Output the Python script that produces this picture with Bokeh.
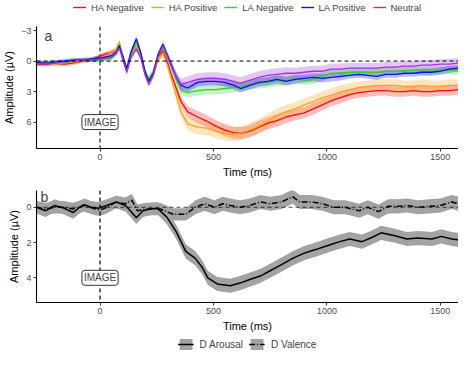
from bokeh.plotting import figure
from bokeh.models import Range1d, FixedTicker, Legend, LegendItem, Span, Label
from bokeh.layouts import column
from bokeh.embed import file_html
from bokeh.resources import INLINE

FONT = "Liberation Sans"

# ---------------- panel a data ----------------
time_a = [-280, -240, -200, -160, -120, -80, -40, 0, 25, 50, 70, 85, 100, 118, 135, 160, 180, 198,
          215, 235, 255, 277, 295, 315, 335, 357, 387, 430, 470, 510, 550, 590, 620, 660, 700, 740,
          780, 820, 860, 900, 940, 980, 1020, 1060, 1100, 1140, 1180, 1220, 1260, 1300, 1340, 1380,
          1420, 1460, 1500, 1540, 1580]
ha_negative = [0.3, 0.3, 0.2, 0.3, 0.2, 0.0, -0.1, -0.5, -0.7, -0.85, -1.0, -1.7, -0.3, 1.0, -0.5, -1.5, -0.5,
               1.2, 2.0, 1.2, -0.4, -1.0, 0.0, 1.4, 2.6, 4.0, 5.0, 5.5, 5.9, 6.4, 6.8, 7.05, 7.1, 6.9, 6.5,
               6.1, 5.85, 5.5, 5.3, 5.1, 4.7, 4.3, 3.9, 3.6, 3.3, 3.1, 3.0, 2.9, 2.9, 3.0, 3.0, 2.9, 3.0,
               3.0, 2.9, 2.9, 2.8]
ha_positive = [0.1, 0.2, 0.3, 0.2, 0.1, 0.0, -0.1, -0.3, -0.5, -0.9, -1.1, -1.9, -0.5, 0.9, -0.3, -1.5, -0.5,
               1.2, 2.1, 1.4, 0.0, -0.8, 0.3, 1.8, 3.3, 5.0, 6.2, 6.5, 6.6, 6.9, 7.1, 7.2, 7.1, 6.8, 6.4,
               5.9, 5.35, 5.0, 4.7, 4.3, 4.0, 3.6, 3.35, 3.0, 2.8, 2.6, 2.5, 2.4, 2.4, 2.4, 2.5, 2.5, 2.4,
               2.5, 2.5, 2.4, 2.4]
la_negative = [0.2, 0.2, 0.1, 0.2, 0.0, -0.1, -0.1, -0.1, -0.2, -0.25, -0.9, -1.6, -0.3, 0.9, -0.6, -1.9, -0.6,
               1.0, 1.75, 1.0, -0.5, -1.3, -0.5, 0.5, 1.8, 2.9, 3.1, 2.9, 2.8, 2.8, 2.7, 2.6, 2.5, 2.3, 2.2,
               2.1, 1.95, 1.9, 1.8, 1.9, 1.8, 1.5, 1.2, 1.2, 1.1, 1.1, 1.1, 1.1, 1.0, 1.0, 1.0, 0.9, 1.0,
               1.0, 0.9, 0.9, 0.95]
la_positive = [0.1, 0.2, 0.1, 0.0, -0.1, -0.1, -0.2, -0.3, -0.4, -0.5, -0.8, -1.5, -0.5, 0.75, -0.8, -2.2, -0.8,
               1.0, 2.0, 1.2, -0.6, -1.65, -0.7, 0.4, 1.5, 2.4, 2.65, 2.1, 2.0, 2.0, 2.1, 2.4, 2.7, 2.4, 2.1,
               2.0, 1.8, 2.0, 1.8, 1.7, 1.6, 1.7, 1.6, 1.5, 1.4, 1.3, 1.4, 1.5, 1.3, 1.3, 1.2, 1.2, 1.1,
               1.1, 1.0, 0.8, 0.7]
neutral = [0.2, 0.3, 0.2, 0.1, 0.0, -0.1, -0.1, -0.2, -0.3, -0.4, -0.7, -1.3, -0.2, 1.1, -0.3, -1.2, -0.3,
           1.3, 2.3, 1.4, -0.4, -1.5, -0.6, 0.5, 1.5, 2.3, 2.1, 1.8, 1.7, 1.7, 1.8, 2.0, 2.2, 1.9, 1.6,
           1.4, 1.3, 1.2, 1.2, 1.1, 1.0, 1.0, 0.8, 0.8, 0.7, 0.7, 0.7, 0.7, 0.6, 0.6, 0.5, 0.5, 0.4,
           0.4, 0.3, 0.3, 0.2]

se_ha_negative = [0.2, 0.2, 0.2, 0.2, 0.2, 0.2, 0.2, 0.25, 0.25, 0.25, 0.25, 0.3, 0.3, 0.3, 0.3, 0.3, 0.3, 0.3,
                  0.3, 0.3, 0.3, 0.35, 0.35, 0.4, 0.45, 0.5, 0.55, 0.6, 0.6, 0.6, 0.6, 0.6, 0.6, 0.6, 0.6,
                  0.6, 0.6, 0.6, 0.55, 0.55, 0.55, 0.55, 0.55, 0.55, 0.5, 0.5, 0.5, 0.5, 0.5, 0.5, 0.5, 0.5,
                  0.5, 0.5, 0.5, 0.5, 0.5]
se_ha_positive = [0.2, 0.2, 0.2, 0.2, 0.2, 0.2, 0.2, 0.25, 0.25, 0.25, 0.25, 0.3, 0.3, 0.3, 0.3, 0.3, 0.3, 0.3,
                  0.3, 0.3, 0.3, 0.4, 0.4, 0.5, 0.55, 0.6, 0.65, 0.7, 0.7, 0.7, 0.7, 0.7, 0.7, 0.7, 0.7,
                  0.7, 0.7, 0.7, 0.65, 0.65, 0.65, 0.65, 0.65, 0.65, 0.6, 0.6, 0.6, 0.6, 0.6, 0.6, 0.6, 0.6,
                  0.6, 0.6, 0.6, 0.6, 0.6]
se_la_negative = [0.2, 0.2, 0.2, 0.2, 0.2, 0.2, 0.2, 0.25, 0.25, 0.25, 0.25, 0.3, 0.3, 0.3, 0.3, 0.3, 0.3, 0.3,
                  0.3, 0.3, 0.3, 0.35, 0.35, 0.4, 0.4, 0.45, 0.45, 0.5, 0.5, 0.5, 0.5, 0.5, 0.5, 0.5, 0.5,
                  0.5, 0.5, 0.5, 0.45, 0.45, 0.45, 0.45, 0.45, 0.45, 0.4, 0.4, 0.4, 0.4, 0.4, 0.4, 0.4, 0.4,
                  0.4, 0.4, 0.4, 0.4, 0.4]
se_la_positive = [0.2, 0.2, 0.2, 0.2, 0.2, 0.2, 0.2, 0.25, 0.25, 0.25, 0.25, 0.3, 0.3, 0.3, 0.3, 0.3, 0.3, 0.3,
                  0.3, 0.3, 0.3, 0.3, 0.3, 0.35, 0.35, 0.4, 0.4, 0.4, 0.4, 0.4, 0.4, 0.4, 0.4, 0.4, 0.4,
                  0.4, 0.4, 0.4, 0.4, 0.4, 0.4, 0.4, 0.4, 0.4, 0.35, 0.35, 0.35, 0.35, 0.35, 0.35, 0.35, 0.35,
                  0.35, 0.35, 0.35, 0.35, 0.35]
se_neutral = [0.2, 0.2, 0.2, 0.2, 0.2, 0.2, 0.2, 0.25, 0.25, 0.25, 0.25, 0.3, 0.3, 0.3, 0.3, 0.3, 0.3, 0.3,
              0.3, 0.3, 0.3, 0.35, 0.35, 0.45, 0.5, 0.55, 0.6, 0.6, 0.6, 0.6, 0.6, 0.6, 0.6, 0.6, 0.6,
              0.6, 0.6, 0.6, 0.55, 0.55, 0.55, 0.55, 0.55, 0.55, 0.5, 0.5, 0.5, 0.5, 0.5, 0.5, 0.5, 0.5,
              0.5, 0.5, 0.5, 0.5, 0.5]

series_names = ["HA Negative", "HA Positive", "LA Negative", "LA Positive", "Neutral"]
series_values = [ha_negative, ha_positive, la_negative, la_positive, neutral]
series_se = [se_ha_negative, se_ha_positive, se_la_negative, se_la_positive, se_neutral]
series_colors = ["#F21010", "#FFA31A", "#2FD12F", "#1010E0", "#A030E0"]

ticks_x = [0, 500, 1000, 1500]
ticks_a = [-3, 0, 3, 6]
ticks_b = [0, 2, 4]

# ---------------- panel b data ----------------
time_arousal = [-280, -240, -200, -160, -118, -90, -70, -40, -8, 30, 71, 113, 140, 160, 189, 220, 252, 294,
                336, 378, 420, 450, 475, 517, 574, 617, 660, 706, 750, 800, 849, 900, 950, 1008, 1057,
                1101, 1155, 1200, 1239, 1295, 1353, 1400, 1463, 1504, 1550, 1580]
d_arousal = [0.0, 0.2, -0.1, 0.05, 0.3, 0.0, -0.15, 0.0, 0.05, -0.1, -0.3, -0.1, 0.3, 0.6, 0.2, 0.1, 0.05,
             0.55, 1.4, 2.5, 2.9, 3.4, 4.0, 4.35, 4.45, 4.3, 4.1, 3.9, 3.6, 3.25, 2.9, 2.6, 2.4, 2.15, 1.95,
             1.8, 1.95, 1.7, 1.45, 1.6, 1.8, 1.75, 1.8, 1.65, 1.8, 1.85]
se_arousal = [0.35, 0.35, 0.35, 0.35, 0.35, 0.35, 0.35, 0.35, 0.35, 0.35, 0.35, 0.35, 0.35, 0.35, 0.35, 0.35,
              0.35, 0.4, 0.4, 0.4, 0.4, 0.4, 0.4, 0.4, 0.4, 0.4, 0.4, 0.4, 0.4, 0.4, 0.4, 0.4, 0.4, 0.4,
              0.4, 0.4, 0.4, 0.4, 0.4, 0.4, 0.4, 0.4, 0.4, 0.4, 0.4, 0.4]
time_valence = [-280, -240, -200, -160, -120, -70, -20, 0, 30, 71, 110, 140, 165, 200, 265, 322, 378, 420,
                462, 504, 540, 574, 617, 660, 706, 750, 800, 849, 880, 933, 980, 1030, 1080, 1143, 1180,
                1227, 1270, 1310, 1353, 1400, 1450, 1500, 1550, 1580]
d_valence = [0.0, 0.1, 0.0, 0.0, 0.1, -0.1, 0.1, 0.15, 0.0, -0.3, -0.2, -0.4, 0.2, 0.1, 0.1, 0.4, 0.4, 0.0,
             -0.2, 0.0, -0.2, -0.1, 0.0, -0.1, -0.3, -0.2, -0.3, -0.6, -0.3, -0.3, -0.2, 0.0, 0.0, 0.2, 0.0,
             0.25, -0.05, -0.05, -0.1, 0.0, -0.05, -0.1, -0.3, -0.2]
se_valence = [0.35, 0.35, 0.35, 0.35, 0.35, 0.35, 0.35, 0.35, 0.35, 0.35, 0.35, 0.35, 0.35, 0.35, 0.35, 0.35,
              0.35, 0.4, 0.4, 0.4, 0.4, 0.4, 0.4, 0.4, 0.4, 0.4, 0.4, 0.4, 0.4, 0.4, 0.4, 0.4, 0.4, 0.4,
              0.4, 0.4, 0.4, 0.4, 0.4, 0.4, 0.4, 0.4, 0.4, 0.4]

W = 458
arousal_lo = [v - s for v, s in zip(d_arousal, se_arousal)]
arousal_hi = [v + s for v, s in zip(d_arousal, se_arousal)]
valence_lo = [v - s for v, s in zip(d_valence, se_valence)]
valence_hi = [v + s for v, s in zip(d_valence, se_valence)]


def style_axes(p, yticks, overrides=None):
    p.grid.visible = False
    p.outline_line_color = None
    for ax in (p.xaxis[0], p.yaxis[0]):
        ax.axis_line_color = "black"
        ax.axis_line_width = 1.1
        ax.major_tick_line_color = "#333333"
        ax.major_tick_out = 3
        ax.major_tick_in = 0
        ax.minor_tick_line_color = None
        ax.major_label_text_font = FONT
        ax.major_label_text_font_size = "9px"
        ax.major_label_text_color = "#4D4D4D"
        ax.major_label_standoff = 2
        ax.axis_label_text_font = FONT
        ax.axis_label_text_font_size = "11px"
        ax.axis_label_text_font_style = "normal"
        ax.axis_label_text_color = "black"
        ax.axis_label_standoff = 3
    p.xaxis[0].ticker = FixedTicker(ticks=ticks_x)
    p.yaxis[0].ticker = FixedTicker(ticks=yticks)
    if overrides:
        p.yaxis[0].major_label_overrides = overrides
    p.xaxis[0].axis_label = "Time (ms)"
    p.yaxis[0].axis_label = "Amplitude (µV)"


def legend_fig(height, left):
    # key-only strip: the series are drawn here too, but outside the visible y range,
    # so that only the legend keys show
    f = figure(width=W, height=height, output_backend="svg", toolbar_location=None,
               x_range=Range1d(-280, 1580), y_range=Range1d(100, 101),
               x_axis_location=None, y_axis_location=None,
               min_border_left=left, min_border_right=0, min_border_top=0, min_border_bottom=0)
    f.grid.visible = False
    f.outline_line_color = None
    return f


# ---------------- top legend ----------------
lg_top = legend_fig(14, 30)
items_top = []
for name, vals, col in zip(series_names, series_values, series_colors):
    r = lg_top.line(x=time_a, y=vals, line_color=col, line_width=1.4)
    items_top.append(LegendItem(label=name, renderers=[r]))
lg_top.add_layout(Legend(items=items_top, orientation="horizontal", location="center",
                         label_text_font=FONT, label_text_font_size="9.5px", label_height=12,
                         glyph_width=13, glyph_height=12, label_standoff=5, spacing=7,
                         padding=0, margin=0, border_line_color=None, background_fill_alpha=0))

# ---------------- panel a ----------------
pa = figure(width=W, height=166, output_backend="svg", toolbar_location=None,
            x_range=Range1d(-280, 1580), y_range=Range1d(8.6, -3.4),
            min_border_left=30, min_border_right=0, min_border_top=12, min_border_bottom=0)
style_axes(pa, ticks_a, {-3: "\u22123", 0: "0", 3: "3", 6: "6"})

pa.add_layout(Span(location=0, dimension="height", line_color="#555555", line_width=1.6, line_dash="4 3"))
pa.add_layout(Span(location=0, dimension="width", line_color="black", line_width=1, line_dash="4 3"))

for vals, se, col in zip(series_values, series_se, series_colors):
    lo = [v - s for v, s in zip(vals, se)]
    hi = [v + s for v, s in zip(vals, se)]
    pa.varea(x=time_a, y1=lo, y2=hi, fill_color=col, fill_alpha=0.28)

for vals, col in zip(series_values, series_colors):
    pa.line(x=time_a, y=vals, line_color=col, line_width=1.3)

pa.add_layout(Label(x=-245, y=-2.45, text="a", text_font=FONT, text_font_size="14px",
                    text_baseline="middle", text_align="left"))
pa.add_layout(Label(x=0, y=6.0, text="IMAGE", text_font=FONT, text_font_size="10px",
                    text_align="center", text_baseline="middle", background_fill_color="white",
                    border_line_color="#333333", border_line_width=1, padding=2, border_radius=3))

# ---------------- panel b ----------------
pb = figure(width=W, height=154, output_backend="svg", toolbar_location=None,
            x_range=Range1d(-280, 1580), y_range=Range1d(5.4, -0.95),
            min_border_left=26, min_border_right=0, min_border_top=10, min_border_bottom=0)
style_axes(pb, ticks_b)

pb.add_layout(Span(location=0, dimension="height", line_color="black", line_width=1.2, line_dash="4 3"))
pb.add_layout(Span(location=0, dimension="width", line_color="black", line_width=0.7, line_dash="4 3"))

pb.varea(x=time_arousal, y1=arousal_lo, y2=arousal_hi, fill_color="#A3A3A3")
pb.varea(x=time_valence, y1=valence_lo, y2=valence_hi, fill_color="#A3A3A3")
pb.line(x=time_arousal, y=d_arousal, line_color="black", line_width=1.5)
pb.line(x=time_valence, y=d_valence, line_color="black", line_width=1.5, line_dash="6 2 1 2")

pb.add_layout(Label(x=-262, y=-0.6, text="b", text_font=FONT, text_font_size="14px",
                    text_baseline="middle", text_align="left"))
pb.add_layout(Label(x=0, y=4.0, text="IMAGE", text_font=FONT, text_font_size="10px",
                    text_align="center", text_baseline="middle", background_fill_color="white",
                    border_line_color="#333333", border_line_width=1, padding=2, border_radius=3))

# ---------------- bottom legend ----------------
lg_bot = legend_fig(20, 26)
fa = lg_bot.varea(x=time_arousal, y1=arousal_lo, y2=arousal_hi, fill_color="#A3A3A3")
la = lg_bot.line(x=time_arousal, y=d_arousal, line_color="black", line_width=1.5)
fv = lg_bot.varea(x=time_valence, y1=valence_lo, y2=valence_hi, fill_color="#A3A3A3")
lv = lg_bot.line(x=time_valence, y=d_valence, line_color="black", line_width=1.5, line_dash="6 2 1 2")
lg_bot.add_layout(Legend(items=[LegendItem(label="D Arousal", renderers=[fa, la]),
                                LegendItem(label="D Valence", renderers=[fv, lv])],
                         orientation="horizontal", location="center",
                         label_text_font=FONT, label_text_font_size="10px", label_height=14,
                         glyph_width=16, glyph_height=14, label_standoff=6, spacing=6,
                         padding=0, margin=0, border_line_color=None, background_fill_alpha=0))

layout = column(lg_top, pa, pb, lg_bot, spacing=0)
open("out.html", "w").write(file_html(layout, INLINE))
